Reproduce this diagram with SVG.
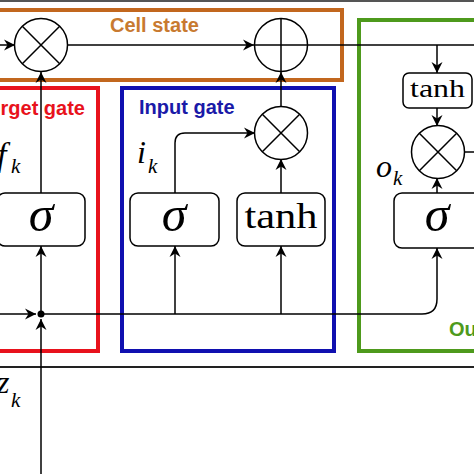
<svg xmlns="http://www.w3.org/2000/svg" width="474" height="474" viewBox="0 0 474 474">
<style>
.ln{fill:none;stroke:#000;stroke-width:1.5}
.op{fill:#fff;stroke:#000;stroke-width:1.5}
.bx{fill:#fff;stroke:#000;stroke-width:1.5}
.gl{font-family:"Liberation Sans",Arial,sans-serif;font-weight:bold;font-size:20px}
.mt{font-family:"Liberation Serif","Times New Roman",serif;font-style:italic}
.rm{font-family:"Liberation Serif","Times New Roman",serif}
</style>
<defs>
<marker id="ah" markerUnits="userSpaceOnUse" markerWidth="13" markerHeight="12" refX="11" refY="6" orient="auto">
<path d="M0,0.5 L11,6 L0,11.5 L3.5,6 z" fill="#000"/>
</marker>
</defs>
<rect x="0" y="0" width="474" height="474" fill="#fff"/>
<line x1="0" y1="1" x2="474" y2="1" stroke="#555" stroke-width="2"/>
<line x1="0" y1="367" x2="474" y2="367" stroke="#222" stroke-width="2"/>

<g id="cell-state-group">
<rect x="-10" y="10" width="352" height="70" fill="none" stroke="#C2671E" stroke-width="4"/>
<text class="gl" x="110" y="32" fill="#C87A30">Cell state</text>
</g>
<g id="forget-gate-group">
<rect x="-10" y="88" width="108" height="263" fill="none" stroke="#E8121C" stroke-width="4"/>
<text class="gl" x="85" y="115" text-anchor="end" fill="#E8121C">Forget gate</text>
</g>
<g id="input-gate-group">
<rect x="122" y="88" width="212" height="263" fill="none" stroke="#1010B0" stroke-width="4"/>
<text class="gl" x="139" y="114" fill="#1A1AA8">Input gate</text>
</g>
<g id="output-gate-group">
<rect x="359" y="20" width="130" height="331" fill="none" stroke="#4E9A1C" stroke-width="4"/>
<text class="gl" x="449" y="336" fill="#4E9A1C">Output gate</text>
</g>

<g id="connectors">
<path class="ln" d="M0 45 L15 45" marker-end="url(#ah)"/>
<path class="ln" d="M68 45 L254 45" marker-end="url(#ah)"/>
<path class="ln" d="M308 45 L474 45"/>
<path class="ln" d="M437 45 L437 73" marker-end="url(#ah)"/>
<path class="ln" d="M437 108 L437 126" marker-end="url(#ah)"/>
<path class="ln" d="M464 152 L474 152"/>
<path class="ln" d="M437 193 L437 178" marker-end="url(#ah)"/>
<path class="ln" d="M41 193 L41 72" marker-end="url(#ah)"/>
<path class="ln" d="M281 107 L281 72" marker-end="url(#ah)"/>
<path class="ln" d="M281 193 L281 159" marker-end="url(#ah)"/>
<path class="ln" d="M175 193 L175 143 Q175 133 185 133 L255 133" marker-end="url(#ah)"/>
<path class="ln" d="M0 314 L36 314" marker-end="url(#ah)"/>
<path class="ln" d="M41 314 L422 314 Q437 314 437 299 L437 248" marker-end="url(#ah)"/>
<path class="ln" d="M41 314 L41 246" marker-end="url(#ah)"/>
<path class="ln" d="M175 314 L175 246" marker-end="url(#ah)"/>
<path class="ln" d="M281 314 L281 246" marker-end="url(#ah)"/>
<path class="ln" d="M41 474 L41 319" marker-end="url(#ah)"/>
<circle cx="41" cy="314" r="3.5" fill="#000"/>
</g>

<g id="mult-forget">
<circle class="op" cx="41" cy="45" r="26.5"/>
<path class="ln" d="M22.3 26.3 L59.7 63.7 M59.7 26.3 L22.3 63.7"/>
</g>
<g id="add-cell">
<circle class="op" cx="281" cy="45" r="26.5"/>
<path class="ln" d="M254.5 45 L307.5 45 M281 18.5 L281 71.5"/>
</g>
<g id="mult-input">
<circle class="op" cx="281" cy="133" r="26.5"/>
<path class="ln" d="M262.3 114.3 L299.7 151.7 M299.7 114.3 L262.3 151.7"/>
</g>
<g id="mult-output">
<circle class="op" cx="438" cy="152" r="26.5"/>
<path class="ln" d="M419.3 133.3 L456.7 170.7 M456.7 133.3 L419.3 170.7"/>
</g>

<g id="sigma-forget">
<rect class="bx" x="-3" y="193" width="88" height="53" rx="8"/>
<text class="mt" x="41" y="231" font-size="50" text-anchor="middle">σ</text>
</g>
<g id="sigma-input">
<rect class="bx" x="130" y="193" width="89" height="53" rx="8"/>
<text class="mt" x="174" y="231" font-size="50" text-anchor="middle">σ</text>
</g>
<g id="tanh-input">
<rect class="bx" x="237" y="193" width="88" height="53" rx="8"/>
<text class="rm" x="281" y="228" font-size="36" text-anchor="middle" textLength="73" lengthAdjust="spacingAndGlyphs">tanh</text>
</g>
<g id="sigma-output">
<rect class="bx" x="394" y="193" width="90" height="55" rx="8"/>
<text class="mt" x="437" y="231" font-size="50" text-anchor="middle">σ</text>
</g>
<g id="tanh-output">
<rect class="bx" x="403" y="73" width="69" height="35" rx="6"/>
<text class="rm" x="437.5" y="97" font-size="26" text-anchor="middle" textLength="55" lengthAdjust="spacingAndGlyphs">tanh</text>
</g>

<g id="labels">
<text class="mt" x="-3" y="166" font-size="34">f</text>
<text class="mt" x="11" y="173" font-size="21">k</text>
<text class="mt" x="137" y="163" font-size="32">i</text>
<text class="mt" x="148" y="173" font-size="21">k</text>
<text class="mt" x="376" y="177" font-size="32">o</text>
<text class="mt" x="393" y="185" font-size="21">k</text>
<text class="mt" x="-3" y="393" font-size="32">z</text>
<text class="mt" x="11" y="407" font-size="21">k</text>
</g>
</svg>
